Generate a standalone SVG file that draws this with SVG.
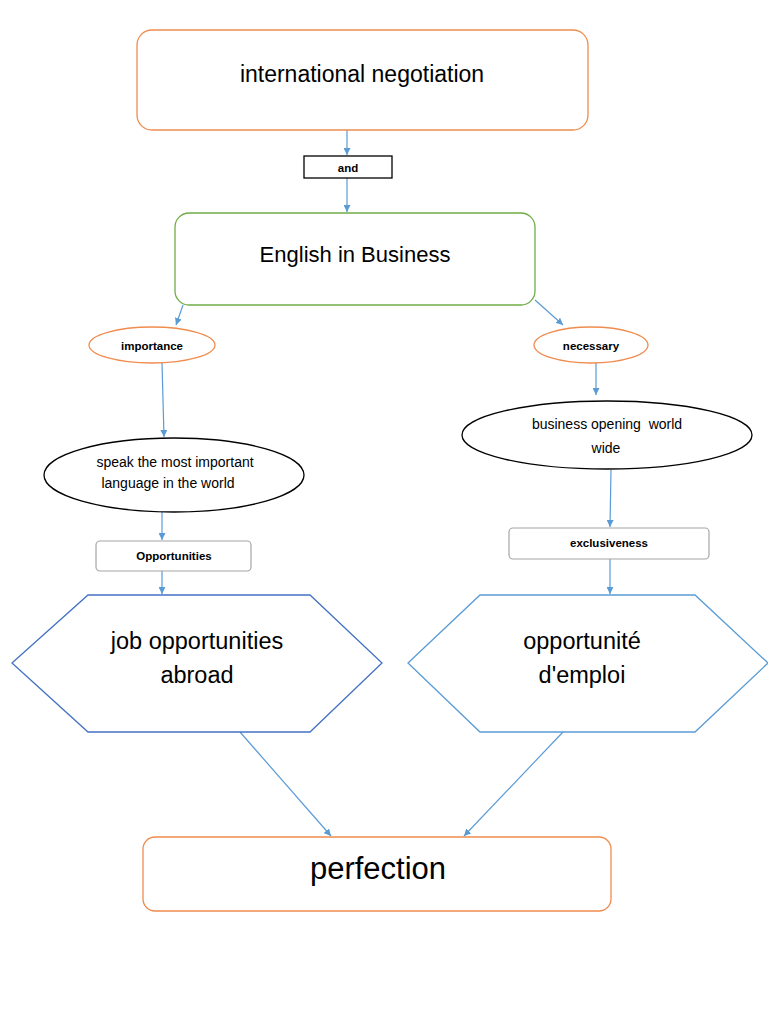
<svg xmlns="http://www.w3.org/2000/svg" width="768" height="1024" viewBox="0 0 768 1024">
<style>
text{font-family:"Liberation Sans",Arial,sans-serif;fill:#000;text-anchor:middle}
.big{font-size:23px}
.sm{font-size:11.5px;font-weight:bold}
.md{font-size:14px}
.orange{fill:#fff;stroke:#F08C4E;stroke-width:1.3}
.conn{stroke:#5B9BD5;stroke-width:1.2;fill:none;marker-end:url(#ah)}
</style>
<defs>
<marker id="ah" viewBox="0 0 10 10" refX="10" refY="5" markerWidth="7" markerHeight="7" markerUnits="userSpaceOnUse" orient="auto">
<path d="M0,0 L10,5 L0,10 z" fill="#5B9BD5"/>
</marker>
</defs>
<rect width="768" height="1024" fill="#fff"/>
<g id="connectors">
<line class="conn" x1="347" y1="130" x2="347" y2="155"/>
<line class="conn" x1="347" y1="178" x2="347" y2="212"/>
<line class="conn" x1="183" y1="305" x2="176" y2="325"/>
<line class="conn" x1="535" y1="300" x2="563" y2="325"/>
<line class="conn" x1="162" y1="363" x2="164" y2="437"/>
<line class="conn" x1="596" y1="363" x2="596" y2="395"/>
<line class="conn" x1="162" y1="512" x2="162" y2="540"/>
<line class="conn" x1="162" y1="571" x2="162" y2="594"/>
<line class="conn" x1="611" y1="470" x2="610" y2="527"/>
<line class="conn" x1="610" y1="559" x2="610" y2="594"/>
<line class="conn" x1="240" y1="732" x2="331" y2="836"/>
<line class="conn" x1="563" y1="732" x2="464" y2="836"/>
</g>
<g id="n-international">
<rect class="orange" x="137" y="30" width="451" height="100" rx="15"/>
<text class="big" x="362" y="82">international negotiation</text>
</g>
<g id="n-and">
<rect x="304" y="156" width="88" height="22" fill="#fff" stroke="#000" stroke-width="1.3"/>
<text class="sm" x="348" y="172">and</text>
</g>
<g id="n-english">
<rect x="175" y="213" width="360" height="92" rx="14" fill="#fff" stroke="#70AD47" stroke-width="1.3"/>
<text x="355" y="262" style="font-size:22px">English in Business</text>
</g>
<g id="n-importance">
<ellipse class="orange" cx="152" cy="345" rx="63" ry="18"/>
<text class="sm" x="152" y="350">importance</text>
</g>
<g id="n-necessary">
<ellipse class="orange" cx="591" cy="345" rx="57" ry="18"/>
<text class="sm" x="591" y="350">necessary</text>
</g>
<g id="n-speak">
<ellipse cx="174" cy="475" rx="130" ry="37" fill="#fff" stroke="#000" stroke-width="1.3"/>
<text class="md" x="175" y="467">speak the most important</text>
<text class="md" x="168" y="488">language in the world</text>
</g>
<g id="n-business">
<ellipse cx="607" cy="435" rx="145" ry="34" fill="#fff" stroke="#000" stroke-width="1.3"/>
<text class="md" x="607" y="429" xml:space="preserve">business opening  world</text>
<text class="md" x="606" y="453">wide</text>
</g>
<g id="n-opportunities">
<rect x="96" y="541" width="155" height="30" rx="4" fill="#fff" stroke="#A6A6A6" stroke-width="1.2"/>
<text class="sm" x="174" y="560">Opportunities</text>
</g>
<g id="n-exclusiveness">
<rect x="509" y="528" width="200" height="31" rx="4" fill="#fff" stroke="#A6A6A6" stroke-width="1.2"/>
<text class="sm" x="609" y="547">exclusiveness</text>
</g>
<g id="n-job">
<polygon points="12,663 88,595 310,595 382,663 310,732 88,732" fill="#fff" stroke="#4472C4" stroke-width="1.3"/>
<text x="197" y="649" style="font-size:23.5px">job opportunities</text>
<text x="197" y="683" style="font-size:23.5px">abroad</text>
</g>
<g id="n-emploi">
<polygon points="408,663 480,595 695,595 768,663 695,732 480,732" fill="#fff" stroke="#5B9BD5" stroke-width="1.3"/>
<text x="582" y="649" style="font-size:23.5px">opportunité</text>
<text x="582" y="683" style="font-size:23.5px">d'emploi</text>
</g>
<g id="n-perfection">
<rect class="orange" x="143" y="837" width="468" height="74" rx="12"/>
<text x="378" y="879" style="font-size:31px">perfection</text>
</g>
</svg>
